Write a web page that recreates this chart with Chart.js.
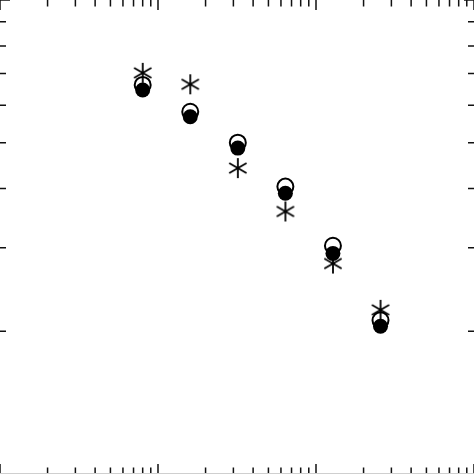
<!DOCTYPE html>
<html>
<head>
<meta charset="utf-8">
<script src="https://cdn.jsdelivr.net/npm/chart.js@4"></script>
<style>
  html, body { margin: 0; padding: 0; background: #fff; }
  canvas { display: block; }
</style>
</head>
<body>
<canvas id="chart" width="474" height="474"></canvas>
<script>
// sample sizes (x) and the three measured series (y), log-log
const xValues = [8, 16, 32, 64, 128, 256];
const filledCircle = [6.46, 5.67, 4.87, 3.91, 2.92, 2.05];
const openCircle = [6.62, 5.81, 5.00, 4.04, 3.03, 2.11];
const asterisk = [7.02, 6.64, 4.42, 3.58, 2.78, 2.22];

const xRange = [1, 1000];
const yRange = [1, 10];

const pts = ys => xValues.map((x, i) => ({x: x, y: ys[i]}));

// six-armed asterisk marker
function makeAsterisk(r, lw) {
  const c = document.createElement('canvas');
  const s = Math.ceil(2 * r + lw * 2);
  c.width = s; c.height = s;
  const g = c.getContext('2d');
  g.strokeStyle = '#000';
  g.lineWidth = lw;
  g.translate(s / 2, s / 2);
  for (let k = 0; k < 3; k++) {
    const a = Math.PI / 2 + k * Math.PI / 3;
    g.beginPath();
    g.moveTo(Math.cos(a) * r, Math.sin(a) * r);
    g.lineTo(-Math.cos(a) * r, -Math.sin(a) * r);
    g.stroke();
  }
  return c;
}

// inward log ticks on all four sides, placed with the chart's own scales
const frameTicks = {
  id: 'frameTicks',
  afterDraw(chart) {
    const ctx = chart.ctx;
    const xs = chart.scales.x, ys = chart.scales.y;
    const area = chart.chartArea;
    const logTicks = (lo, hi) => {
      const out = [];
      for (let e = Math.floor(Math.log10(lo)); e <= Math.ceil(Math.log10(hi)); e++) {
        for (let m = 1; m <= 9; m++) {
          const v = m * Math.pow(10, e);
          if (v >= lo && v <= hi) out.push({v: v, major: m === 1});
        }
      }
      return out;
    };
    ctx.save();
    ctx.strokeStyle = '#111';
    ctx.lineWidth = 1.5;
    logTicks(xRange[0], xRange[1]).forEach(t => {
      const px = xs.getPixelForValue(t.v);
      const len = t.major ? 10 : 6.5;
      ctx.beginPath();
      ctx.moveTo(px, area.bottom); ctx.lineTo(px, area.bottom - len);
      ctx.moveTo(px, area.top); ctx.lineTo(px, area.top + len);
      ctx.stroke();
    });
    logTicks(yRange[0], yRange[1]).forEach(t => {
      const py = ys.getPixelForValue(t.v);
      const len = t.major ? 10 : 6;
      ctx.beginPath();
      ctx.moveTo(area.left, py); ctx.lineTo(area.left + len, py);
      ctx.moveTo(area.right, py); ctx.lineTo(area.right - len, py);
      ctx.stroke();
    });
    // faint frame line along the bottom edge
    ctx.strokeStyle = '#cfcfcf';
    ctx.lineWidth = 1;
    ctx.beginPath();
    ctx.moveTo(area.left, area.bottom - 0.5);
    ctx.lineTo(area.right, area.bottom - 0.5);
    ctx.stroke();
    ctx.restore();
  }
};

new Chart(document.getElementById('chart'), {
  type: 'scatter',
  data: {
    datasets: [
      {
        label: 'filled',
        data: pts(filledCircle),
        pointStyle: 'circle',
        pointRadius: 7.5,
        backgroundColor: '#000',
        borderColor: '#000',
        borderWidth: 0
      },
      {
        label: 'open',
        data: pts(openCircle),
        pointStyle: 'circle',
        pointRadius: 8,
        backgroundColor: 'rgba(0,0,0,0)',
        borderColor: '#000',
        borderWidth: 2
      },
      {
        label: 'asterisk',
        data: pts(asterisk),
        pointStyle: makeAsterisk(10, 1.8),
        pointRadius: 10,
        backgroundColor: '#000',
        borderColor: '#000'
      }
    ]
  },
  options: {
    responsive: false,
    animation: false,
    layout: { padding: 0, autoPadding: false },
    plugins: { legend: { display: false }, tooltip: { enabled: false } },
    scales: {
      x: { type: 'logarithmic', min: xRange[0], max: xRange[1], display: false },
      y: { type: 'logarithmic', min: yRange[0], max: yRange[1], display: false }
    }
  },
  plugins: [frameTicks]
});
</script>
</body>
</html>
